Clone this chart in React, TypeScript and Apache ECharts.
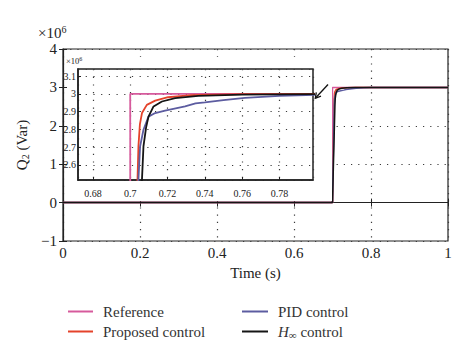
import React, { useEffect, useRef } from 'react';
import * as echarts from 'echarts';

const SERIF = "'Liberation Serif', 'DejaVu Serif', 'Times New Roman', serif";

// Series names
const seriesNames = ['Reference', 'Proposed control', 'PID control', 'H∞ control'];
const seriesColors = ['#d65a9c', '#e4432b', '#5c5ca0', '#151515'];

// Reference (×10^6 Var)
const refT = [0, 0.7, 0.7, 1];
const refV = [0, 0, 3, 3];

// Proposed control
const propT = [0, 0.7, 0.7039, 0.7044, 0.7052, 0.7063, 0.7089, 0.7134, 0.7203, 0.733, 0.76, 0.8, 1];
const propV = [0, 0, 2.517, 2.704, 2.83, 2.892, 2.938, 2.962, 2.981, 2.993, 2.998, 3.0, 3.0];

// PID control
const pidT = [0, 0.7, 0.7044, 0.7053, 0.7071, 0.7098, 0.7134, 0.7187, 0.7294, 0.735, 0.74, 0.75, 0.7615, 0.78, 0.8, 0.85, 1];
const pidV = [0, 0, 2.517, 2.704, 2.798, 2.872, 2.892, 2.906, 2.929, 2.946, 2.952, 2.965, 2.977, 2.989, 2.995, 2.999, 3.0];

// H-infinity control
const hinfT = [0, 0.7, 0.7063, 0.7071, 0.7085, 0.7098, 0.7125, 0.717, 0.7241, 0.7365, 0.76, 0.8, 1];
const hinfV = [0, 0, 2.517, 2.704, 2.81, 2.872, 2.929, 2.957, 2.976, 2.989, 2.996, 2.999, 3.0];

// Axes
const mainXRange = [0, 1];
const mainXInterval = 0.2;
const mainYRange = [-1, 4];
const mainYInterval = 1;
const insetXRange = [0.672, 0.798];
const insetXStep = 0.02;
const insetYRange = [2.515, 3.14];
const insetYStep = 0.1;

const seriesT = [refT, propT, pidT, hinfT];
const seriesV = [refV, propV, pidV, hinfV];

function pairs(t: number[], v: number[]) {
  return t.map((x, i) => [x, v[i]]);
}

const DOT = '#3a3a3a';
const AX = '#222';

export default function App() {
  const ref = useRef<HTMLDivElement>(null);
  useEffect(() => {
    if (!ref.current) return;
    const chart = echarts.init(ref.current, null, { renderer: 'svg' });

    const mainSeries = seriesNames.map((name, i) => ({
      name,
      type: 'line',
      xAxisIndex: 0,
      yAxisIndex: 0,
      data: pairs(seriesT[i], seriesV[i]),
      showSymbol: false,
      symbol: 'none',
      color: seriesColors[i],
      lineStyle: { width: 1.5, color: seriesColors[i] },
      z: 2,
    }));
    const insetSeries = seriesNames.map((name, i) => ({
      name,
      type: 'line',
      xAxisIndex: 1,
      yAxisIndex: 1,
      data: pairs(seriesT[i], seriesV[i]),
      showSymbol: false,
      symbol: 'none',
      clip: true,
      color: seriesColors[i],
      lineStyle: { width: 1.8, color: seriesColors[i] },
      z: 5,
    }));

    const legendCommon = {
      orient: 'vertical',
      icon: 'rect',
      itemHeight: 2,
      itemGap: 5,
      selectedMode: false,
      textStyle: {
        fontFamily: SERIF,
        fontSize: 15,
        color: '#333',
        padding: [0, 0, 0, 5],
        rich: {
          i: { fontFamily: SERIF, fontSize: 15, fontStyle: 'italic', color: '#333', lineHeight: 17 },
          s: { fontFamily: SERIF, fontSize: 11, color: '#333', verticalAlign: 'bottom', lineHeight: 9 },
          n: { fontFamily: SERIF, fontSize: 15, color: '#333', lineHeight: 17 },
        },
      },
      formatter: (name: string) => (name === 'H∞ control' ? '{i|H}{s|∞}{n| control}' : name),
    };

    const mirrorTick = { show: true, inside: true, length: 4, lineStyle: { color: AX } };

    const option: any = {
      animation: false,
      backgroundColor: '#fff',
      textStyle: { fontFamily: SERIF },
      grid: [
        { left: 63, top: 49, right: 26, bottom: 122, show: true, borderColor: AX, borderWidth: 1.2, backgroundColor: 'transparent', z: 0 },
        { left: 78, top: 69, right: 161, bottom: 183, show: true, borderColor: AX, borderWidth: 1.5, backgroundColor: '#fff', z: 4 },
      ],
      xAxis: [
        {
          type: 'value', gridIndex: 0, min: mainXRange[0], max: mainXRange[1], interval: mainXInterval,
          axisLine: { show: true, lineStyle: { color: AX, width: 1.2 } },
          axisTick: { show: true, inside: true, length: 4, lineStyle: { color: AX } },
          axisLabel: { fontFamily: SERIF, fontSize: 15, color: '#222', margin: 4 },
          splitLine: { show: true, lineStyle: { color: DOT, width: 1.2, type: [1.2, 6] } },
          name: 'Time (s)', nameLocation: 'middle', nameGap: 24,
          nameTextStyle: { fontFamily: SERIF, fontSize: 15, color: '#222' },
          z: 0,
        },
        {
          type: 'value', gridIndex: 1, min: insetXRange[0], max: insetXRange[1],
          minInterval: insetXStep, maxInterval: insetXStep, splitNumber: 6,
          axisLine: { show: true, lineStyle: { color: AX, width: 1.5 } },
          axisTick: { show: true, inside: true, length: 3, lineStyle: { color: AX } },
          axisLabel: { fontFamily: SERIF, fontSize: 10, color: '#222', margin: 8, showMinLabel: false, showMaxLabel: false },
          splitLine: { show: true, lineStyle: { color: DOT, width: 1.2, type: [1.2, 6.5] } },
          z: 4,
        },
        {
          type: 'value', gridIndex: 0, position: 'top', min: mainXRange[0], max: mainXRange[1], interval: mainXInterval,
          axisLine: { show: false }, axisTick: mirrorTick, axisLabel: { show: false }, splitLine: { show: false },
          z: 0,
        },
      ],
      yAxis: [
        {
          type: 'value', gridIndex: 0, min: mainYRange[0], max: mainYRange[1], interval: mainYInterval,
          axisLine: { show: true, lineStyle: { color: AX, width: 1.2 } },
          axisTick: { show: true, inside: true, length: 4, lineStyle: { color: AX } },
          axisLabel: {
            fontFamily: SERIF, fontSize: 15, color: '#222', margin: 6,
            formatter: (v: number) => (v < 0 ? '\u2212' + Math.abs(v) : String(v)),
          },
          splitLine: { show: true, lineStyle: { color: DOT, width: 1.2, type: [1.2, 6] } },
          name: '{a|Q}{b|2}{a| (Var)}', nameLocation: 'middle', nameGap: 27, nameRotate: 90,
          nameTextStyle: {
            rich: {
              a: { fontFamily: SERIF, fontSize: 15, color: '#222', lineHeight: 17 },
              b: { fontFamily: SERIF, fontSize: 10, color: '#222', verticalAlign: 'bottom', lineHeight: 9 },
            },
          },
          z: 0,
        },
        {
          type: 'value', gridIndex: 1, min: insetYRange[0], max: insetYRange[1],
          minInterval: insetYStep, maxInterval: insetYStep, splitNumber: 6,
          axisLine: { show: true, lineStyle: { color: AX, width: 1.5 } },
          axisTick: { show: true, inside: true, length: 3, lineStyle: { color: AX } },
          axisLabel: { fontFamily: SERIF, fontSize: 10, color: '#222', margin: 2, showMinLabel: false, showMaxLabel: false },
          splitLine: { show: true, lineStyle: { color: DOT, width: 1.2, type: [1.2, 6.5] } },
          z: 4,
        },
        {
          type: 'value', gridIndex: 0, position: 'right', min: mainYRange[0], max: mainYRange[1], interval: mainYInterval,
          axisLine: { show: false }, axisTick: mirrorTick, axisLabel: { show: false }, splitLine: { show: false },
          z: 0,
        },
      ],
      legend: [
        { ...legendCommon, left: 63, top: 299, itemWidth: 25, data: ['Reference', 'Proposed control'] },
        { ...legendCommon, left: 237, top: 299, itemWidth: 26, data: ['PID control', 'H∞ control'] },
      ],
      graphic: [
        {
          type: 'rect', z: 3, silent: true,
          shape: { x: 67.5, y: 57, width: 264.5, height: 144 },
          style: { fill: '#fff' },
        },
        {
          type: 'text', z: 6, left: 38, top: 24, silent: true,
          style: {
            text: '{a|×10}{b|6}',
            rich: {
              a: { fontFamily: SERIF, fontSize: 15, fill: '#222', lineHeight: 17 },
              b: { fontFamily: SERIF, fontSize: 10, fill: '#222', verticalAlign: 'top', lineHeight: 9 },
            },
          },
        },
        {
          type: 'text', z: 6, left: 66, top: 56, silent: true,
          style: {
            text: '{a|×10}{b|6}',
            rich: {
              a: { fontFamily: SERIF, fontSize: 8.5, fill: '#222', lineHeight: 10 },
              b: { fontFamily: SERIF, fontSize: 6, fill: '#222', verticalAlign: 'top', lineHeight: 6 },
            },
          },
        },
        {
          type: 'line', z: 6, silent: true,
          shape: { x1: 328, y1: 84.5, x2: 315.5, y2: 98 },
          style: { stroke: '#111', lineWidth: 1.3 },
        },
        {
          type: 'polyline', z: 6, silent: true,
          shape: { points: [[321, 96.2], [315.3, 98.3], [316.3, 92.4]] },
          style: { stroke: '#111', lineWidth: 1.3, fill: null },
        },
      ],
      series: [...mainSeries, ...insetSeries],
    };

    chart.setOption(option);
    return () => chart.dispose();
  }, []);

  return <div ref={ref} style={{ position: 'absolute', left: 0, top: 0, width: 474, height: 363 }} />;
}
